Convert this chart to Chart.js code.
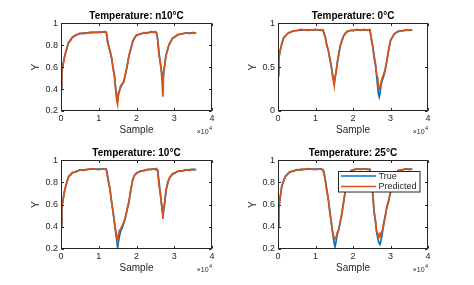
<!DOCTYPE html>
<html>
<head>
<meta charset="utf-8">
<script src="https://cdn.jsdelivr.net/npm/chart.js@4/dist/chart.umd.min.js"></script>
<style>
html,body{margin:0;padding:0;background:#fff;}
#wrap{position:relative;width:474px;height:285px;background:#fff;}
#wrap canvas{position:absolute;left:0;top:0;width:474px;height:285px;}
</style>
</head>
<body>
<div id="wrap">
<canvas id="c0" width="474" height="285"></canvas>
<canvas id="c1" width="474" height="285"></canvas>
<canvas id="c2" width="474" height="285"></canvas>
<canvas id="c3" width="474" height="285"></canvas>
</div>
<script>
// ---------- DATA ----------
const titles = ['Temperature: n10°C', 'Temperature: 0°C', 'Temperature: 10°C', 'Temperature: 25°C'];
const seriesNames = ['True', 'Predicted'];
const xTickValues = [0, 10000, 20000, 30000, 40000];
const xTickLabels = ['0', '1', '2', '3', '4'];
const xExponentLabel = '×10';
const xExponent = '4';
const yTickValuesA = [0.2, 0.4, 0.6, 0.8, 1];
const yTickLabelsA = ['0.2', '0.4', '0.6', '0.8', '1'];
const yTickValuesB = [0, 0.5, 1];
const yTickLabelsB = ['0', '0.5', '1'];

const sampleIdx = [
  0, 200, 500, 1000, 1500, 2000, 2500, 3000, 4000, 5000,
  6000, 8000, 10000, 11500, 12000, 12300, 12600, 13000, 13400, 13800,
  14200, 14500, 14800, 15000, 15200, 15500, 15800, 16200, 16600, 17000,
  17500, 18000, 18500, 19000, 19500, 20000, 21000, 22000, 23000, 24000,
  24500, 25000, 25300, 25600, 26000, 26300, 26600, 26800, 27000, 27200,
  27500, 27800, 28200, 28600, 29000, 29500, 30000, 31000, 32000, 33000,
  34000, 35000, 35800
];

const trueN10 = [
  0.40, 0.55, 0.62, 0.70, 0.77, 0.82, 0.85, 0.87, 0.895, 0.905,
  0.91, 0.915, 0.92, 0.92, 0.92, 0.85, 0.79, 0.75, 0.68, 0.60,
  0.50, 0.40, 0.32, 0.30, 0.34, 0.39, 0.42, 0.44, 0.47, 0.52,
  0.61, 0.70, 0.77, 0.83, 0.87, 0.89, 0.905, 0.91, 0.915, 0.92,
  0.92, 0.92, 0.915, 0.86, 0.72, 0.64, 0.57, 0.52, 0.50, 0.55,
  0.63, 0.70, 0.76, 0.80, 0.83, 0.86, 0.875, 0.895, 0.905, 0.91,
  0.91, 0.915, 0.91
];
const predN10 = [
  0.42, 0.57, 0.60, 0.71, 0.76, 0.83, 0.84, 0.875, 0.89, 0.91,
  0.905, 0.92, 0.915, 0.925, 0.915, 0.83, 0.80, 0.74, 0.69, 0.58,
  0.52, 0.38, 0.29, 0.26, 0.37, 0.38, 0.43, 0.45, 0.46, 0.53,
  0.60, 0.71, 0.76, 0.84, 0.865, 0.895, 0.90, 0.915, 0.91, 0.925,
  0.915, 0.925, 0.905, 0.85, 0.70, 0.65, 0.55, 0.45, 0.33, 0.56,
  0.62, 0.71, 0.75, 0.81, 0.825, 0.865, 0.87, 0.90, 0.90, 0.915,
  0.905, 0.915, 0.91
];

const true0 = [
  0.40, 0.58, 0.67, 0.77, 0.83, 0.86, 0.88, 0.895, 0.91, 0.918,
  0.922, 0.925, 0.925, 0.925, 0.92, 0.89, 0.84, 0.76, 0.69, 0.61,
  0.51, 0.43, 0.36, 0.32, 0.37, 0.45, 0.54, 0.65, 0.74, 0.80,
  0.855, 0.89, 0.905, 0.912, 0.918, 0.92, 0.925, 0.925, 0.925, 0.925,
  0.92, 0.80, 0.72, 0.64, 0.52, 0.40, 0.27, 0.19, 0.16, 0.20,
  0.30, 0.35, 0.40, 0.47, 0.56, 0.70, 0.80, 0.88, 0.905, 0.915,
  0.92, 0.922, 0.922
];
const pred0 = [
  0.43, 0.60, 0.68, 0.76, 0.84, 0.85, 0.885, 0.89, 0.915, 0.915,
  0.93, 0.92, 0.93, 0.92, 0.925, 0.87, 0.85, 0.74, 0.70, 0.59,
  0.52, 0.41, 0.34, 0.29, 0.39, 0.44, 0.56, 0.64, 0.75, 0.79,
  0.86, 0.885, 0.91, 0.91, 0.925, 0.915, 0.93, 0.92, 0.93, 0.92,
  0.93, 0.79, 0.74, 0.61, 0.54, 0.42, 0.38, 0.27, 0.25, 0.27,
  0.33, 0.38, 0.42, 0.48, 0.57, 0.69, 0.81, 0.875, 0.91, 0.91,
  0.925, 0.92, 0.925
];

const true10 = [
  0.40, 0.56, 0.64, 0.73, 0.80, 0.85, 0.87, 0.885, 0.90, 0.91,
  0.915, 0.92, 0.92, 0.92, 0.92, 0.87, 0.81, 0.73, 0.63, 0.53,
  0.43, 0.35, 0.27, 0.21, 0.26, 0.32, 0.36, 0.39, 0.43, 0.47,
  0.55, 0.62, 0.73, 0.83, 0.865, 0.885, 0.90, 0.91, 0.915, 0.92,
  0.92, 0.92, 0.92, 0.915, 0.80, 0.70, 0.62, 0.55, 0.50, 0.55,
  0.63, 0.72, 0.79, 0.83, 0.855, 0.875, 0.885, 0.90, 0.905, 0.91,
  0.915, 0.915, 0.915
];
const pred10 = [
  0.42, 0.58, 0.63, 0.74, 0.79, 0.855, 0.865, 0.89, 0.895, 0.915,
  0.91, 0.925, 0.915, 0.925, 0.915, 0.85, 0.80, 0.74, 0.62, 0.54,
  0.42, 0.36, 0.30, 0.27, 0.33, 0.37, 0.38, 0.41, 0.44, 0.48,
  0.56, 0.63, 0.74, 0.82, 0.87, 0.88, 0.905, 0.905, 0.92, 0.915,
  0.925, 0.915, 0.925, 0.90, 0.76, 0.72, 0.60, 0.58, 0.47, 0.57,
  0.62, 0.73, 0.78, 0.835, 0.85, 0.88, 0.88, 0.905, 0.90, 0.915,
  0.91, 0.92, 0.915
];

const true25 = [
  0.40, 0.55, 0.65, 0.76, 0.82, 0.855, 0.875, 0.89, 0.905, 0.912,
  0.918, 0.92, 0.92, 0.92, 0.915, 0.89, 0.82, 0.74, 0.65, 0.55,
  0.44, 0.37, 0.29, 0.25, 0.22, 0.27, 0.33, 0.38, 0.44, 0.52,
  0.62, 0.74, 0.83, 0.88, 0.905, 0.915, 0.92, 0.92, 0.92, 0.92,
  0.915, 0.78, 0.68, 0.55, 0.44, 0.35, 0.30, 0.27, 0.25, 0.24,
  0.28, 0.34, 0.42, 0.50, 0.57, 0.64, 0.71, 0.86, 0.905, 0.915,
  0.92, 0.92, 0.92
];
const pred25 = [
  0.42, 0.57, 0.64, 0.77, 0.81, 0.86, 0.87, 0.895, 0.90, 0.915,
  0.912, 0.925, 0.915, 0.925, 0.91, 0.87, 0.83, 0.72, 0.66, 0.53,
  0.45, 0.36, 0.32, 0.30, 0.29, 0.31, 0.35, 0.37, 0.45, 0.50,
  0.63, 0.73, 0.835, 0.875, 0.91, 0.91, 0.925, 0.915, 0.925, 0.915,
  0.92, 0.77, 0.70, 0.53, 0.46, 0.36, 0.34, 0.31, 0.33, 0.31,
  0.35, 0.36, 0.44, 0.49, 0.58, 0.63, 0.72, 0.855, 0.91, 0.91,
  0.925, 0.915, 0.92
];

// ---------- STYLE / LAYOUT ----------
const BLUE = '#0072BD';
const ORANGE = '#D95319';
const AX = '#262626';
const FONT = '"Liberation Sans", Arial, Helvetica, sans-serif';
Chart.defaults.font.family = FONT;

const panels = [
  {id: 'c0', t: trueN10, p: predN10, yv: yTickValuesA, yl: yTickLabelsA, L: 61, R: 212, T: 23.3, B: 111, legend: false},
  {id: 'c1', t: true0,   p: pred0,   yv: yTickValuesB, yl: yTickLabelsB, L: 278, R: 428, T: 23.3, B: 111, legend: false},
  {id: 'c2', t: true10,  p: pred10,  yv: yTickValuesA, yl: yTickLabelsA, L: 61, R: 212, T: 160.3, B: 249, legend: false},
  {id: 'c3', t: true25,  p: pred25,  yv: yTickValuesA, yl: yTickLabelsA, L: 278, R: 428, T: 160.3, B: 249, legend: true}
];
const W = 474, H = 285, Y_W = 40, X_H = 30;

const framePlugin = {
  id: 'frame',
  afterDatasetsDraw(chart, args, opts) {
    const {ctx, chartArea: ca, scales} = chart;
    ctx.save();
    ctx.strokeStyle = AX;
    ctx.lineWidth = 1;
    const l = Math.round(ca.left) + 0.5, r = Math.round(ca.right) - 0.5;
    const t = Math.round(ca.top) + 0.5, b = Math.round(ca.bottom) - 0.5;
    ctx.strokeRect(l, t, r - l, b - t);
    const tl = 2.5;
    ctx.beginPath();
    scales.x.ticks.forEach(tk => {
      const px = Math.round(scales.x.getPixelForValue(tk.value)) + 0.5;
      ctx.moveTo(px, b); ctx.lineTo(px, b - tl);
      ctx.moveTo(px, t); ctx.lineTo(px, t + tl);
    });
    scales.y.ticks.forEach(tk => {
      const py = Math.round(scales.y.getPixelForValue(tk.value)) + 0.5;
      ctx.moveTo(l, py); ctx.lineTo(l + tl, py);
      ctx.moveTo(r, py); ctx.lineTo(r - tl, py);
    });
    ctx.stroke();
    // title centred over the axes
    ctx.fillStyle = '#000';
    ctx.textAlign = 'center';
    ctx.textBaseline = 'middle';
    ctx.font = 'bold 10px ' + FONT;
    ctx.fillText(opts.title, (ca.left + ca.right) / 2, ca.top - 7.3);
    // exponent label of the x axis
    ctx.fillStyle = AX;
    ctx.textBaseline = 'alphabetic';
    ctx.textAlign = 'right';
    ctx.font = '5.5px ' + FONT;
    const w4 = ctx.measureText(xExponent).width;
    ctx.fillText(xExponent, ca.right, ca.bottom + 19.3);
    ctx.font = '7px ' + FONT;
    ctx.fillText(xExponentLabel, ca.right - w4 - 0.3, ca.bottom + 22.5);
    ctx.restore();
  }
};

const insideLegend = {
  id: 'insideLegend',
  afterDraw(chart, args, opts) {
    if (!opts.show) return;
    const {ctx} = chart;
    const x0 = 338.5, y0 = 171.5, w = 81.5, h = 20.5;
    ctx.save();
    ctx.fillStyle = '#fff';
    ctx.fillRect(x0, y0, w, h);
    ctx.strokeStyle = AX;
    ctx.lineWidth = 1;
    ctx.strokeRect(x0, y0, w, h);
    ctx.font = '9px ' + FONT;
    ctx.textBaseline = 'middle';
    ctx.textAlign = 'left';
    const rows = [chart.data.datasets[0], chart.data.datasets[1]];
    const ys = [176, 186.5];
    rows.forEach((ds, i) => {
      ctx.strokeStyle = ds.borderColor;
      ctx.lineWidth = 1.5;
      ctx.beginPath();
      ctx.moveTo(341, ys[i]); ctx.lineTo(376, ys[i]);
      ctx.stroke();
      ctx.fillStyle = AX;
      ctx.fillText(ds.label, 378.5, ys[i] + 0.5);
    });
    ctx.restore();
  }
};

panels.forEach((pn, idx) => {
  const toPts = arr => sampleIdx.map((s, i) => ({x: s, y: arr[i]}));
  new Chart(document.getElementById(pn.id), {
    type: 'line',
    data: {
      datasets: [
        {label: seriesNames[0], data: toPts(pn.t), borderColor: BLUE, backgroundColor: BLUE,
         borderWidth: 1.7, pointRadius: 0, tension: 0, fill: false, order: 2},
        {label: seriesNames[1], data: toPts(pn.p), borderColor: ORANGE, backgroundColor: ORANGE,
         borderWidth: 1.7, pointRadius: 0, tension: 0, fill: false, order: 1}
      ]
    },
    options: {
      responsive: false,
      animation: false,
      devicePixelRatio: 1,
      events: [],
      layout: {padding: {left: pn.L - Y_W, right: W - pn.R, top: pn.T, bottom: H - pn.B - X_H}},
      plugins: {
        legend: {display: false},
        tooltip: {enabled: false},
        title: {display: false},
        frame: {title: titles[idx]},
        insideLegend: {show: pn.legend}
      },
      scales: {
        x: {
          type: 'linear', min: 0, max: 40000,
          afterFit: s => { s.height = X_H; },
          afterBuildTicks: s => { s.ticks = xTickValues.map(v => ({value: v})); },
          ticks: {
            autoSkip: false, maxRotation: 0, padding: 2.5, color: AX,
            font: {size: 9},
            callback: (v, i) => xTickLabels[i]
          },
          grid: {display: false, drawTicks: false},
          border: {display: false},
          title: {display: true, text: 'Sample', color: AX, font: {size: 10, lineHeight: 1.2},
                  padding: {top: 0, bottom: 4.5}}
        },
        y: {
          type: 'linear', min: pn.yv[0], max: pn.yv[pn.yv.length - 1],
          afterFit: s => { s.width = Y_W; },
          afterBuildTicks: s => { s.ticks = pn.yv.map(v => ({value: v})); },
          ticks: {
            autoSkip: false, padding: 3, color: AX,
            font: {size: 9},
            callback: (v, i) => pn.yl[i]
          },
          grid: {display: false, drawTicks: false},
          border: {display: false},
          title: {display: true, text: 'Y', color: AX, font: {size: 10, lineHeight: 1.2},
                  padding: {top: 9.3, bottom: 0}}
        }
      }
    },
    plugins: [framePlugin, insideLegend]
  });
});
</script>
</body>
</html>
